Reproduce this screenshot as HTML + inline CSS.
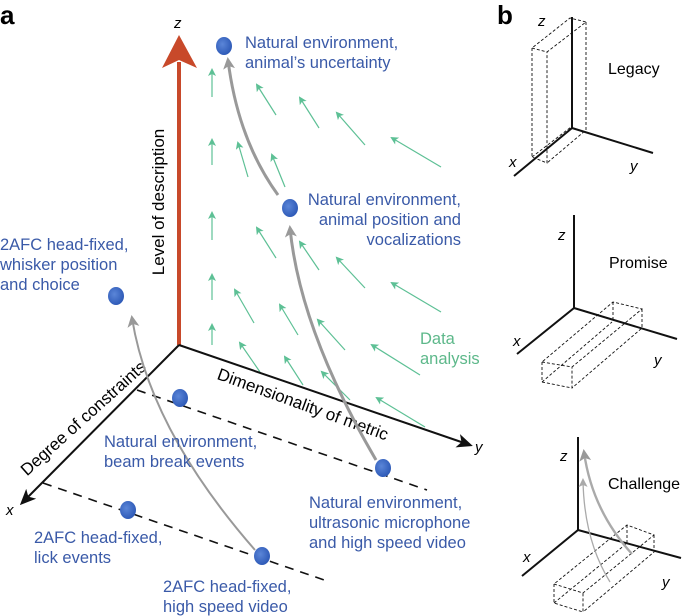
<!DOCTYPE html>
<html><head><meta charset="utf-8"><style>
body{margin:0;background:#fff;}
svg{display:block;font-family:"Liberation Sans",sans-serif;}
.b{fill:#3a5aa8;font-size:16.5px;}
.g{fill:#5db88a;font-size:16.5px;}
.ga{stroke:#5dc095;stroke-width:1.2;fill:none;}
</style></head><body>
<svg width="685" height="616" viewBox="0 0 685 616">
<defs>
<marker id="gm" markerWidth="8" markerHeight="8" refX="6" refY="4" orient="auto" markerUnits="userSpaceOnUse"><path d="M0,0 L8,4 L0,8 L2,4z" fill="#5dc095"/></marker>
<marker id="km" markerWidth="16" markerHeight="14" refX="13" refY="7" orient="auto" markerUnits="userSpaceOnUse"><path d="M0,0 L16,7 L0,14 L4,7z" fill="#111"/></marker>
<marker id="hm" markerWidth="12" markerHeight="12" refX="9" refY="6" orient="auto" markerUnits="userSpaceOnUse"><path d="M0,0 L12,6 L0,12 L3,6z" fill="#999"/></marker>
<marker id="hs" markerWidth="9" markerHeight="9" refX="7" refY="4.5" orient="auto" markerUnits="userSpaceOnUse"><path d="M0,0 L9,4.5 L0,9 L2,4.5z" fill="#aaa"/></marker>
<radialGradient id="dg" cx="0.4" cy="0.4" r="0.6"><stop offset="0" stop-color="#5b86d8"/><stop offset="1" stop-color="#2f5bb8"/></radialGradient>
</defs>
<text x="0" y="24" font-size="26" font-weight="bold">a</text>
<text x="497" y="24" font-size="26" font-weight="bold">b</text>
<g class="ga" marker-end="url(#gm)">
<path d="M212,97L212,70"/><path d="M212,165L212,140"/><path d="M212,240L212,213"/><path d="M212,300L212,275"/><path d="M212,345L212,325"/>
<path d="M276,115L257,85"/><path d="M319,128L300,98"/><path d="M365,145L337,113"/><path d="M441,167L392,138"/>
<path d="M248,177L238,143"/><path d="M285,187L272,155"/>
<path d="M276,258L257,228"/><path d="M319,270L300,242"/><path d="M365,288L337,258"/><path d="M441,312L392,283"/>
<path d="M254,323L235,290"/><path d="M298,335L280,305"/><path d="M345,350L318,320"/><path d="M420,375L372,345"/>
<path d="M260,372L240,343"/><path d="M303,385L285,357"/><path d="M350,400L322,372"/><path d="M425,427L377,398"/>
</g>
<text class="g" x="420" y="344">Data</text>
<text class="g" x="420" y="364">analysis</text>
<line x1="179" y1="345" x2="179" y2="62" stroke="#c8492a" stroke-width="4"/>
<path d="M162,68 L179,35 L197,68 L179,60z" fill="#c8492a"/>
<text x="174" y="28" font-size="15" font-style="italic">z</text>
<line x1="179" y1="345" x2="22" y2="503" stroke="#111" stroke-width="2" marker-end="url(#km)"/>
<line x1="179" y1="345" x2="470" y2="445" stroke="#111" stroke-width="2" marker-end="url(#km)"/>
<text x="6" y="515" font-size="15" font-style="italic">x</text>
<text x="475" y="452" font-size="15" font-style="italic">y</text>
<text transform="translate(158,202) rotate(-90)" y="6" text-anchor="middle" font-size="17">Level of description</text>
<text transform="translate(83,418) rotate(-42)" y="6" text-anchor="middle" font-size="17">Degree of constraints</text>
<text transform="translate(303,404) rotate(20)" y="6" text-anchor="middle" font-size="17">Dimensionality of metric</text>
<line x1="137" y1="390" x2="427" y2="490" stroke="#111" stroke-width="1.6" stroke-dasharray="9,7"/>
<line x1="43" y1="483" x2="330" y2="582" stroke="#111" stroke-width="1.6" stroke-dasharray="9,7"/>
<path d="M278,195 Q238,140 228,60" stroke="#999" stroke-width="3" fill="none" marker-end="url(#hm)"/>
<path d="M376,460 Q300,330 290,228" stroke="#999" stroke-width="3" fill="none" marker-end="url(#hm)"/>
<path d="M255,550 Q150,430 132,318" stroke="#999" stroke-width="2" fill="none" marker-end="url(#hm)"/>
<g fill="url(#dg)">
<ellipse cx="224" cy="46" rx="8" ry="9"/><ellipse cx="290" cy="208" rx="8" ry="9"/><ellipse cx="116" cy="296" rx="8" ry="9"/>
<ellipse cx="180" cy="398" rx="8" ry="9"/><ellipse cx="383" cy="468" rx="8" ry="9"/><ellipse cx="128" cy="510" rx="8" ry="9"/><ellipse cx="262" cy="556" rx="8" ry="9"/>
</g>
<text class="b" x="245" y="48">Natural environment,</text>
<text class="b" x="245" y="68">animal’s uncertainty</text>
<text class="b" x="461" y="205" text-anchor="end">Natural environment,</text>
<text class="b" x="461" y="225" text-anchor="end">animal position and</text>
<text class="b" x="461" y="245" text-anchor="end">vocalizations</text>
<text class="b" x="0" y="250">2AFC head-fixed,</text>
<text class="b" x="0" y="270">whisker position</text>
<text class="b" x="0" y="290">and choice</text>
<text class="b" x="104" y="447">Natural environment,</text>
<text class="b" x="104" y="467">beam break events</text>
<text class="b" x="309" y="508">Natural environment,</text>
<text class="b" x="309" y="528">ultrasonic microphone</text>
<text class="b" x="309" y="548">and high speed video</text>
<text class="b" x="34" y="543">2AFC head-fixed,</text>
<text class="b" x="34" y="563">lick events</text>
<text class="b" x="163" y="592">2AFC head-fixed,</text>
<text class="b" x="163" y="612">high speed video</text>
<!-- panel b -->
<g stroke="#111" stroke-width="2" fill="none">
<path d="M572,17V128L514,176M572,128L653,153"/>
<path d="M574,215V308L517,354M574,308L677,339"/>
<path d="M578,437V530L522,576M578,530L681,558"/>
</g>
<g stroke="#111" stroke-width="0.9" stroke-dasharray="3,2" fill="none">
<path d="M532,48L547,52L586,22L570,18Z M532,48V157L547,163V52 M586,22V130L547,163 M532,157L571,127"/>
<path d="M542,362L572,367L642,309L613,302Z M542,362V382L572,388V367 M642,309V328L572,388 M542,382L612,322 M613,302V322"/>
<path d="M554,584L583,593L654,535L627,525Z M554,584V603L583,612V593 M654,535V552L583,612 M554,603L626,544 M627,525V544"/>
</g>
<path d="M632,554 Q592,510 584,452" stroke="#aaa" stroke-width="2.4" fill="none" marker-end="url(#hm)"/>
<path d="M610,582 Q584,540 583,480" stroke="#aaa" stroke-width="1.3" fill="none" marker-end="url(#hs)"/>
<g font-size="15" font-style="italic">
<text x="538" y="26">z</text><text x="509" y="167">x</text><text x="630" y="171">y</text>
<text x="558" y="240">z</text><text x="513" y="346">x</text><text x="654" y="365">y</text>
<text x="560" y="461">z</text><text x="523" y="562">x</text><text x="662" y="587">y</text>
</g>
<g font-size="16"><text x="608" y="74">Legacy</text><text x="609" y="268">Promise</text><text x="608" y="489">Challenge</text></g>
</svg>
</body></html>
